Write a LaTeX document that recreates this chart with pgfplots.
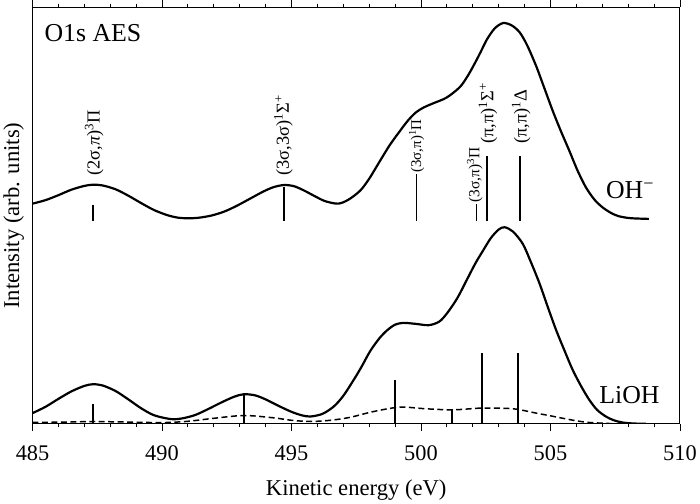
\documentclass[border=0pt]{standalone}
\usepackage{fontspec}
\setmainfont{Liberation Serif}
\usepackage{pgfplots}
\pgfplotsset{compat=1.18}

\begin{document}
\begin{tikzpicture}
\begin{axis}[
  scale only axis, width=650bp, height=418bp,
  xmin=485, xmax=510, ymin=0, ymax=418,
  xtick={485,490,...,510}, minor x tick num=4,
  ytick=\empty,
  tick align=outside,
  major tick length=7bp, minor tick length=3.5bp,
  every tick/.style={black, line width=0.9bp},
  axis line style={line width=1bp},
  /pgf/number format/assume math mode=true,
  ticklabel style={font=\fontsize{22.5}{27}\selectfont},
  xticklabel style={anchor=base, yshift=-30bp},
  label style={font=\fontsize{22.8}{27}\selectfont},
  xlabel={Kinetic energy (eV)},
  ylabel={Intensity (arb. units)},
  xlabel style={at={(axis description cs:0.5,0)}, anchor=base, yshift=-71.5bp},
  ylabel style={at={(axis description cs:-0.0292,0.5)}, anchor=center, rotate=0},
  unbounded coords=jump,
  every axis plot/.append style={line join=round},
]

% OH- spectrum (offset upwards)
\addplot[black, line width=2.2bp, smooth, tension=0.5] coordinates {
  (485.0,221) (485.5,224.5) (486.0,229.5) (486.5,235) (487.0,238.8) (487.33,240)
  (487.7,239.3) (488.2,235.5) (488.7,229) (489.2,221.5) (489.7,214.5) (490.2,209.5)
  (490.6,207) (490.99,206.3) (491.4,206.8) (491.9,209) (492.4,213) (492.9,219)
  (493.4,226) (493.9,233) (494.3,237.5) (494.71,239.7) (495.1,238.5) (495.5,234)
  (495.9,228.5) (496.3,223.5) (496.8,221) (497.2,225) (497.65,234) (498.0,246)
  (498.42,264) (498.8,280) (499.19,294) (499.5,304.5) (499.8,312.5) (500.1,317.5)
  (500.45,321.5) (500.99,327.5) (501.5,338) (501.8,349) (502.05,360.5) (502.3,373)
  (502.55,386) (502.85,397) (503.17,402.3) (503.5,400) (503.81,393) (504.1,380)
  (504.45,359) (504.75,338) (505.09,314) (505.4,294) (505.73,274) (506.05,254)
  (506.37,237.3) (506.7,225) (507.01,217.3) (507.35,211.5) (507.65,208.3)
  (508.1,206.4) (508.8,205.7)
};

% OH- transition sticks
\addplot[black, line width=1.5bp] coordinates {
  (487.33,204) (487.33,220) (487.33,nan)
  (494.71,204) (494.71,237.3) (494.71,nan)
  (499.83,204) (499.83,251) (499.83,nan)
  (502.14,204) (502.14,221) (502.14,nan)
  (502.55,204) (502.55,269) (502.55,nan)
  (503.83,204) (503.83,269)
};

% LiOH spectrum
\addplot[black, line width=2.2bp, smooth, tension=0.5] coordinates {
  (485.0,10.7) (485.5,17) (486.0,25) (486.5,32.5) (487.0,38) (487.33,39.7)
  (487.7,38.5) (488.2,33) (488.7,24.5) (489.2,15.5) (489.7,8.5) (490.35,4.7)
  (490.8,5.5) (491.3,9) (491.8,15) (492.3,21.5) (492.8,27.3) (493.17,29.7)
  (493.6,28.5) (494.0,24.5) (494.5,18) (495.0,12) (495.4,8.5) (495.73,7.3)
  (496.2,10) (496.63,17.3) (497.0,28) (497.4,44) (497.7,57) (498.04,73)
  (498.4,86) (498.7,94) (499.0,99.5) (499.32,101.3) (499.8,100.3) (500.3,99)
  (500.7,102.5) (501.0,110.7) (501.4,126) (501.76,144) (502.1,161) (502.40,174)
  (502.7,186.5) (503.0,195) (503.23,197.3) (503.55,193) (503.93,180.7)
  (504.25,162) (504.58,140.7) (504.9,117) (505.22,94) (505.55,73) (505.86,54)
  (506.2,37) (506.5,24) (506.8,14) (507.14,7.3) (507.45,3.5) (507.78,1.3)
  (508.2,0.3) (508.68,0)
};

% LiOH transition sticks
\addplot[black, line width=1.5bp, ycomb] coordinates {
  (487.33,19.7) (493.17,29.7) (499.0,44) (501.2,14.7) (502.36,70.7) (503.74,70.7)
};

% LiOH background component
\addplot[black, line width=1.5bp, dash pattern=on 6bp off 3.5bp, smooth, tension=0.5] coordinates {
  (485,1.3) (486.5,1.8) (487.33,2.3) (488.5,1.8) (490.0,1.2) (491.0,2.5) (492.0,5.5)
  (493.17,8.3) (494.3,6) (495.0,3.5) (495.73,2.3) (496.5,3.5) (497.27,6.5)
  (498.17,12.3) (499.19,16.7) (500.22,15) (501.24,14) (502.27,15.7) (503.04,15.7)
  (503.68,14.7) (504.45,10.7) (505.0,8) (505.48,5.5) (506.0,3) (506.5,1.3) (507.5,0)
};

% Annotations
\node[anchor=base west, inner sep=0, font=\fontsize{26}{30}\selectfont]
  at (axis cs:485.46,384) {O1s AES};
\node[anchor=base west, inner sep=0, font=\fontsize{26}{30}\selectfont]
  at (axis cs:507.14,226) {OH\textsuperscript{\char"2212}};
\node[anchor=base west, inner sep=0, font=\fontsize{26}{30}\selectfont]
  at (axis cs:506.88,20) {LiOH};

\node[rotate=90, anchor=west, inner sep=0, font=\fontsize{18.5}{21}\selectfont]
  at (axis cs:487.38,249) {(2σ,\textit{π})\textsuperscript{3}Π};
\node[rotate=90, anchor=west, inner sep=0, font=\fontsize{18.5}{21}\selectfont]
  at (axis cs:494.69,249) {(3σ,3σ)\textsuperscript{1}Σ\textsuperscript{+}};
\node[rotate=90, anchor=west, inner sep=0, font=\fontsize{15}{17}\selectfont]
  at (axis cs:499.83,252) {(3σ,π)\textsuperscript{1}Π};
\node[rotate=90, anchor=west, inner sep=0, font=\fontsize{15.5}{17}\selectfont]
  at (axis cs:502.08,222) {(3σ,π)\textsuperscript{3}Π};
\node[rotate=90, anchor=west, inner sep=0, font=\fontsize{18.5}{21}\selectfont]
  at (axis cs:502.59,281) {(π,π)\textsuperscript{1}Σ\textsuperscript{+}};
\node[rotate=90, anchor=west, inner sep=0, font=\fontsize{18.5}{21}\selectfont]
  at (axis cs:503.87,281) {(π,π)\textsuperscript{1}Δ};
\end{axis}
\path (current axis.south west) ++(-31bp,-77bp) coordinate (bbl);
\path (current axis.north east) ++(19bp,6bp) coordinate (bbr);
\path (bbl) rectangle (bbr);
\end{tikzpicture}
\end{document}
